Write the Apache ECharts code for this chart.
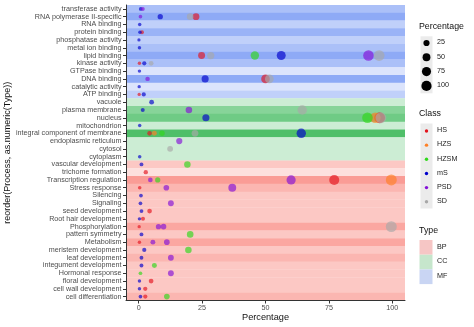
<!DOCTYPE html>
<html><head><meta charset="utf-8">
<script src="https://cdn.jsdelivr.net/npm/echarts@6/dist/echarts.min.js"></script>
<style>html,body{margin:0;padding:0;background:#fff}#c{width:474px;height:327px}</style>
</head><body><div id="c"></div>
<script>
// ---------- data ----------
const processes = [
  'transferase activity','RNA polymerase II-specific','RNA binding','protein binding',
  'phosphatase activity','metal ion binding','lipid binding','kinase activity',
  'GTPase binding','DNA binding','catalytic activity','ATP binding',
  'vacuole','plasma membrane','nucleus','mitochondrion',
  'integral component of membrane','endoplasmic reticulum','cytosol','cytoplasm',
  'vascular development','trichome formation','Transcription regulation','Stress response',
  'Silencing','Signaling','seed development','Root hair development',
  'Phosphorylation','pattern symmetry','Metabolism','meristem development',
  'leaf development','integument development','Hormonal response','floral development',
  'cell wall development','cell differentiation'
];
const processTypes = [
  'MF','MF','MF','MF','MF','MF','MF','MF','MF','MF','MF','MF',
  'CC','CC','CC','CC','CC','CC','CC','CC',
  'BP','BP','BP','BP','BP','BP','BP','BP','BP','BP','BP','BP','BP','BP','BP','BP','BP','BP'
];
// number of overlapping background tiles per process row
const tileCount = [
  3,5,2,4,2,3,5,3,1,5,1,2,
  1,3,4,1,6,1,1,1,
  2,1,5,3,2,2,2,2,4,2,4,2,3,2,2,2,2,3
];
const classNames = ['HS','HZS','HZSM','mS','PSD','SD'];
const typeNames = ['BP','CC','MF'];

const hsValues = [
  ['RNA polymerase II-specific',22.6],['protein binding',1.3],['lipid binding',24.8],
  ['kinase activity',0.3],['DNA binding',50.0],['ATP binding',0.2],['nucleus',95.0],
  ['integral component of membrane',4.3],['trichome formation',2.8],
  ['Transcription regulation',77.1],['Stress response',0.4],['seed development',4.3],
  ['Root hair development',1.7],['Phosphorylation',0.2],['Metabolism',0.3],
  ['floral development',4.9],['cell wall development',2.6],['cell differentiation',2.6]
];
const hzsValues = [
  ['nucleus',93.3],['integral component of membrane',6.2],['Transcription regulation',99.6]
];
const hzsmValues = [
  ['lipid binding',45.8],['nucleus',90.2],['integral component of membrane',9.2],
  ['vascular development',19.2],['Transcription regulation',7.5],['pattern symmetry',20.3],
  ['meristem development',19.6],['integument development',6.2],['Hormonal response',0.7],
  ['cell differentiation',11.1]
];
const msValues = [
  ['transferase activity',0.8],['RNA polymerase II-specific',8.5],['RNA binding',0.4],
  ['protein binding',0.5],['phosphatase activity',0.1],['metal ion binding',0.3],
  ['lipid binding',56.2],['kinase activity',2.2],['GTPase binding',0.3],['DNA binding',26.2],
  ['catalytic activity',0.2],['ATP binding',2.0],['vacuole',5.1],['plasma membrane',1.6],
  ['nucleus',26.5],['mitochondrion',0.4],['integral component of membrane',64.1],
  ['cytoplasm',0.4],['vascular development',1.1],['Silencing',0.9],['Signaling',0.7],
  ['seed development',1.1],['Root hair development',0.3],['pattern symmetry',1.1],
  ['meristem development',2.2],['leaf development',1.1],['integument development',1.1],
  ['floral development',0.3],['cell wall development',0.3],['cell differentiation',0.7]
];
const psdValues = [
  ['transferase activity',1.6],['RNA polymerase II-specific',0.7],['lipid binding',90.6],
  ['DNA binding',3.5],['plasma membrane',19.8],['endoplasmic reticulum',16.0],
  ['Transcription regulation',4.6],['Transcription regulation',60.1],
  ['Stress response',10.9],['Stress response',36.9],['Signaling',12.7],
  ['Phosphorylation',7.8],['Phosphorylation',9.8],['Metabolism',5.6],['Metabolism',11.1],
  ['leaf development',12.7],['Hormonal response',12.7]
];
const sdValues = [
  ['RNA polymerase II-specific',20.3],['lipid binding',28.4],['lipid binding',94.8],
  ['kinase activity',4.9],['DNA binding',51.5],['plasma membrane',64.5],['nucleus',95.5],
  ['integral component of membrane',22.2],['cytosol',12.4],['Phosphorylation',99.6]
];
const classValues = [hsValues, hzsValues, hzsmValues, msValues, psdValues, sdValues];

const percentTicks = [0, 25, 50, 75, 100];
const sizeLegendValues = [25, 50, 75, 100];

// ---------- styles ----------
const FONT = 'Liberation Sans, Arial, sans-serif';
const classColors = ['#E3141E', '#FF8026', '#2FD81A', '#0000CC', '#8410D8', '#A8A8A8'];
const typeFill = { BP: '#F8766D', CC: '#1FAE40', MF: '#6289F2' };
const typeKey = { BP: '#F6C6C5', CC: '#C6E6CC', MF: '#C9D5F3' };
const tileAlpha = 0.226;

function hexRGB(h) { return [1,3,5].map(i => parseInt(h.substr(i,2),16)); }
function tileColor(type, n) {
  const f = 1 - Math.pow(1 - tileAlpha, n);
  const c = hexRGB(typeFill[type]);
  const m = c.map(v => Math.round(255 - f * (255 - v)));
  return 'rgb(' + m.join(',') + ')';
}
function dotSize(v) { return 3 + 8.0 * Math.sqrt(v / 100); }

const bandData = processes.map((p, i) => [0, i, tileCount[i], processTypes[i]]);

const series = [{
  type: 'custom',
  name: 'bands',
  z: 1,
  silent: true,
  encode: { x: 0, y: 1 },
  data: bandData,
  renderItem: function (params, api) {
    const idx = api.value(1);
    const c = api.coord([0, idx]);
    const h = api.size([0, 1])[1];
    const cs = params.coordSys;
    const item = bandData[params.dataIndex];
    return {
      type: 'rect',
      shape: { x: cs.x, y: c[1] - h / 2, width: cs.width, height: h + 0.3 },
      style: { fill: tileColor(item[3], item[2]) }
    };
  }
}];
classNames.forEach((cn, k) => {
  series.push({
    type: 'scatter',
    name: cn,
    z: 3,
    data: classValues[k].map(d => [d[1], d[0]]),
    symbolSize: v => dotSize(v[0]),
    itemStyle: { color: classColors[k], opacity: 0.66 },
    emphasis: { disabled: true }
  });
});

// ---------- legends (graphic) ----------
const g = [];
const LX = 419, KX = 426.5, TX = 437;
function title(t, y) {
  g.push({ type: 'text', left: LX, top: y - 5.5, style: { text: t, font: '8.8px ' + FONT, fill: '#111' } });
}
function label(t, y) {
  g.push({ type: 'text', left: TX, top: y - 4.2, style: { text: t, font: '7.2px ' + FONT, fill: '#222' } });
}
title('Percentage', 28);
g.push({ type: 'rect', shape: { x: 420.5, y: 36.3, width: 12, height: 57 }, style: { fill: '#EBEBEB' } });
sizeLegendValues.forEach((v, i) => {
  const y = 43 + 14.3 * i;
  g.push({ type: 'circle', shape: { cx: KX, cy: y, r: dotSize(v) / 2 - 0.4 }, style: { fill: '#000' } });
  label(String(v), y);
});
title('Class', 115);
g.push({ type: 'rect', shape: { x: 420.5, y: 123.6, width: 12, height: 85 }, style: { fill: '#EBEBEB' } });
classNames.forEach((cn, i) => {
  const y = 131 + 14.15 * i;
  g.push({ type: 'circle', shape: { cx: KX, cy: y, r: 1.7 }, style: { fill: classColors[i] } });
  label(cn, y);
});
title('Type', 232);
typeNames.forEach((t, i) => {
  const y = 240 + 14.7 * i;
  g.push({ type: 'rect', shape: { x: 419.5, y: y, width: 13, height: 14.7 }, style: { fill: typeKey[t] } });
  label(t, y + 7.3);
});

const chart = echarts.init(document.getElementById('c'), null, { renderer: 'canvas' });
chart.setOption({
  animation: false,
  backgroundColor: '#fff',
  textStyle: { fontFamily: FONT },
  grid: { left: 126, right: 69, top: 5, bottom: 26.5, containLabel: false, outerBoundsMode: 'none' },
  xAxis: {
    type: 'value', min: -5, max: 105, z: 5,
    name: 'Percentage', nameLocation: 'middle', nameGap: 12, nameMoveOverlap: false,
    nameTextStyle: { fontSize: 9.2, color: '#111', fontFamily: FONT },
    axisLine: { show: true, onZero: false, lineStyle: { color: '#333', width: 1 } },
    axisTick: { show: true, length: 3, customValues: percentTicks, lineStyle: { color: '#333' } },
    axisLabel: { customValues: percentTicks, fontSize: 7.2, color: '#4d4d4d', margin: 4, fontFamily: FONT },
    splitLine: { show: false }
  },
  yAxis: {
    type: 'category', data: processes, inverse: true, z: 5,
    name: 'reorder(Process, as.numeric(Type))', nameLocation: 'middle', nameRotate: 90,
    nameGap: 114, nameMoveOverlap: false,
    nameTextStyle: { fontSize: 9, color: '#111', fontFamily: FONT },
    axisLine: { show: true, onZero: false, lineStyle: { color: '#333', width: 1 } },
    axisTick: { show: true, length: 3, alignWithLabel: true, interval: 0, lineStyle: { color: '#333' } },
    axisLabel: { interval: 0, fontSize: 7.2, color: '#4d4d4d', margin: 4.5, fontFamily: FONT },
    splitLine: { show: false }
  },
  series: series,
  graphic: g
});
</script>
</body></html>
